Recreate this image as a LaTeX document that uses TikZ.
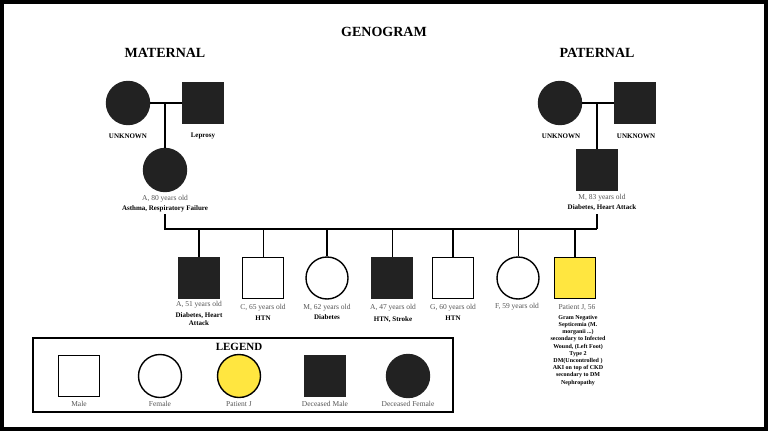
\documentclass[tikz,border=0pt]{standalone}
\usepackage{fontspec}
\setmainfont{Liberation Serif}
\definecolor{dk}{HTML}{222222}
\definecolor{yl}{HTML}{FFE640}
\definecolor{gt}{HTML}{555555}
\begin{document}
\begin{tikzpicture}[x=1pt,y=-1pt,
  sq/.style={draw=black,line width=1.4pt,minimum size=41pt,inner sep=0pt},
  ci/.style={draw=black,line width=1.4pt,circle,minimum size=43pt,inner sep=0pt},
  dsq/.style={sq,fill=dk,draw=dk},
  dci/.style={ci,fill=dk,draw=dk},
  ysq/.style={sq,fill=yl},
  yci/.style={ci,fill=yl},
  ln/.style={line width=1.3pt},
  age/.style={font=\fontsize{7.5}{8}\selectfont,text=gt,inner sep=0pt},
  dx/.style={font=\bfseries\fontsize{7}{8.5}\selectfont,align=center,inner sep=0pt},
  pt/.style={font=\bfseries\fontsize{6}{7.2}\selectfont,align=center,inner sep=0pt},
  hd/.style={font=\bfseries\fontsize{14}{14}\selectfont,inner sep=0pt}]
\fill[black] (0,0) rectangle (768,431);
\fill[white] (4,4) rectangle (764,427);
\node[hd] (t) at (384,32) {GENOGRAM};
\node[hd] (mat) at (165,53) {MATERNAL};
\node[hd] (pat) at (597,53) {PATERNAL};
% maternal
\node[dci] (mgm) at (128,103) {};
\node[dsq] (mgf) at (203,103) {};
\draw[ln] (mgm) -- (mgf);
\node[dci] (mo) at (165,170) {};
\draw[ln] (165,103) -- (mo);
\node[dx] (l1) at (128,136) {UNKNOWN};
\node[dx] (l2) at (203,136) {Leprosy};
\node[age] (moa) at (165,199) {A, 80 years old};
\node[dx] (mod) at (165,209) {Asthma, Respiratory Failure};
% paternal
\node[dci] (pgm) at (560,103) {};
\node[dsq] (pgf) at (635,103) {};
\draw[ln] (pgm) -- (pgf);
\node[dsq] (fa) at (597,170) {};
\draw[ln] (597,103) -- (fa);
\node[dx] (l3) at (561,136) {UNKNOWN};
\node[dx] (l4) at (636,136) {UNKNOWN};
\node[age] (faa) at (602,198) {M, 83 years old};
\node[dx] (fad) at (602,208) {Diabetes, Heart Attack};
% couple line
\coordinate (ml) at (165,229);
\coordinate (mr) at (575,229);
\draw[ln] (165,214) -- (ml) -- (mr);
\draw[ln] (597,214) -- (597,229);
\draw[ln] (575,229) -- (597,229);
% children
\node[dsq] (c1) at (199,278) {};
\node[sq] (c2) at (263,278) {};
\node[ci,minimum size=42pt] (c3) at (327,278) {};
\node[dsq] (c4) at (392,278) {};
\node[sq] (c5) at (453,278) {};
\node[ci,minimum size=42pt] (c6) at (518,278) {};
\node[ysq] (c7) at (575,278) {};
\foreach \c/\w in {c1/1.3,c2/0.7,c3/1.3,c4/0.7,c5/1.3,c6/0.9,c7/1.3}{
  \draw[line width=\w pt] (\c.north) -- (\c.north |- ml);}
\node[age] at (199,305) {A, 51 years old};
\node[dx] at (199,319) {Diabetes, Heart\\Attack};
\node[age] at (263,308) {C, 65 years old};
\node[dx] at (263,318) {HTN};
\node[age] at (327,308) {M, 62 years old};
\node[dx] at (327,317) {Diabetes};
\node[age] at (393,308) {A, 47 years old};
\node[dx] at (393,320) {HTN, Stroke};
\node[age] at (453,308) {G, 60 years old};
\node[dx] at (453,318) {HTN};
\node[age] at (517,307) {F, 59 years old};
\node[age] at (577,308) {Patient J, 56};
\node[pt,anchor=north] at (578,315) {Gram Negative\\Septicemia (M.\\morganii ...)\\secondary to Infected\\Wound, (Left Foot)\\Type 2\\DM(Uncontrolled )\\AKI on top of CKD\\secondary to DM\\Nephropathy};
% legend
\draw[line width=1.8pt] (33,338) rectangle (453,412);
\node[font=\bfseries\fontsize{11}{11}\selectfont,inner sep=0pt] at (239,347) {LEGEND};
\node[sq] (g1) at (79,376) {};
\node[ci] (g2) at (160,376) {};
\node[yci] (g3) at (239,376) {};
\node[dsq] (g4) at (325,376) {};
\node[dci] (g5) at (408,376) {};
\node[age] at (79,404) {Male};
\node[age] at (160,404) {Female};
\node[age] at (239,404) {Patient J};
\node[age] at (325,404) {Deceased Male};
\node[age] at (408,404) {Deceased Female};
\end{tikzpicture}
\end{document}
